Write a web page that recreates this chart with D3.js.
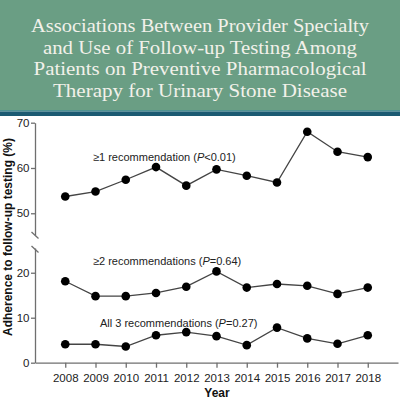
<!DOCTYPE html>
<html>
<head>
<meta charset="utf-8">
<script src="https://cdn.jsdelivr.net/npm/d3@7"></script>
<style>
  html, body { margin: 0; padding: 0; background: #ffffff; }
  svg { display: block; }
</style>
</head>
<body>
<div id="chart"></div>
<script>
'use strict';

var years = [2008, 2009, 2010, 2011, 2012, 2013, 2014, 2015, 2016, 2017, 2018];
var atLeastOne = [53.7, 54.8, 57.4, 60.2, 56.1, 59.7, 58.3, 56.8, 68.0, 63.6, 62.4];
var atLeastTwo = [18.1, 14.8, 14.8, 15.5, 16.9, 20.3, 16.7, 17.5, 17.1, 15.3, 16.7];
var allThree = [4.1, 4.1, 3.6, 6.1, 6.8, 5.9, 3.9, 7.8, 5.4, 4.2, 6.1];
var upperTicks = [50, 60, 70];
var lowerTicks = [0, 10, 20];
var titleLines = [
    'Associations Between Provider Specialty',
    'and Use of Follow-up Testing Among',
    'Patients on Preventive Pharmacological',
    'Therapy for Urinary Stone Disease'
];

var width = 400, height = 400;
var svg = d3.select('#chart').append('svg')
    .attr('width', width)
    .attr('height', height);

// banner
svg.append('rect').attr('x', 0).attr('y', 0).attr('width', width).attr('height', 111)
    .attr('fill', '#6a9e84');
svg.append('rect').attr('x', 0).attr('y', 110).attr('width', width).attr('height', 1.5)
    .attr('fill', '#4d9292');
svg.append('rect').attr('x', 0).attr('y', 111.5).attr('width', width).attr('height', 4.5)
    .attr('fill', '#1b5a72');

var titleWidths = [338, 314, 333, 294];
svg.selectAll('text.title').data(titleLines).enter()
    .append('text')
    .attr('class', 'title')
    .attr('x', 200)
    .attr('y', function(d, i){ return 32 + i * 21.5; })
    .attr('text-anchor', 'middle')
    .attr('font-family', '"Liberation Serif", "DejaVu Serif", serif')
    .attr('font-size', '18.5px')
    .attr('fill', '#f2f1ea')
    .attr('textLength', function(d, i){ return titleWidths[i]; })
    .attr('lengthAdjust', 'spacingAndGlyphs')
    .text(function(d){ return d; });

// scales
var axisX = 35;
var x = d3.scaleLinear().domain([2007, 2019]).range([axisX, 398]);
var yTop = d3.scaleLinear().domain([45.2, 70]).range([235, 122.7]);
var yBot = d3.scaleLinear().domain([0, 25.5]).range([362.7, 248]);

var axisColor = '#6f6f6f';
var font = '"Liberation Sans", Arial, sans-serif';

function styleAxis(g) {
    g.selectAll('path.domain').attr('stroke', axisColor).attr('stroke-width', 1.3);
    g.selectAll('.tick line').attr('stroke', axisColor).attr('stroke-width', 1.3);
    g.selectAll('.tick text').attr('fill', '#222').attr('font-family', font).attr('font-size', '11.5px');
}

var gTop = svg.append('g').attr('transform', 'translate(' + axisX + ',0)')
    .call(d3.axisLeft(yTop).tickValues(upperTicks).tickSize(4).tickSizeOuter(0).tickPadding(1.5));
styleAxis(gTop);

var gBot = svg.append('g').attr('transform', 'translate(' + axisX + ',0)')
    .call(d3.axisLeft(yBot).tickValues(lowerTicks).tickSize(4).tickSizeOuter(0).tickPadding(1.5));
styleAxis(gBot);

var gX = svg.append('g').attr('transform', 'translate(0,' + yBot(0) + ')')
    .call(d3.axisBottom(x).tickValues(years).tickFormat(d3.format('d')).tickSize(5).tickSizeOuter(0).tickPadding(6));
styleAxis(gX);

// axis break marks
[yTop.range()[0], yBot.range()[1]].forEach(function(yy, i){
    var off = i === 0 ? 0 : 1;
    svg.append('line')
        .attr('x1', axisX - 3.5).attr('y1', yy - 3 + off)
        .attr('x2', axisX + 3.5).attr('y2', yy + 3.5 + off)
        .attr('stroke', axisColor)
        .attr('stroke-width', 1.3);
});

// series
var series = [
    {values: atLeastOne, y: yTop},
    {values: atLeastTwo, y: yBot},
    {values: allThree, y: yBot}
];

series.forEach(function(s){
    var line = d3.line()
        .x(function(d, i){ return x(years[i]); })
        .y(function(d){ return s.y(d); });
    svg.append('path')
        .datum(s.values)
        .attr('d', line)
        .attr('fill', 'none')
        .attr('stroke', '#444')
        .attr('stroke-width', 1.3);
    svg.selectAll(null).data(s.values).enter()
        .append('circle')
        .attr('cx', function(d, i){ return x(years[i]); })
        .attr('cy', function(d){ return s.y(d); })
        .attr('r', 4.3)
        .attr('fill', '#000');
});

// series labels
var labels = [
    {x: 93, y: 160.5, pre: '\u22651 recommendation (', p: 'P', post: '<0.01)'},
    {x: 93, y: 264.5, pre: '\u22652 recommendations (', p: 'P', post: '=0.64)'},
    {x: 100, y: 326.5, pre: 'All 3 recommendations (', p: 'P', post: '=0.27)'}
];
labels.forEach(function(l){
    var t = svg.append('text')
        .attr('x', l.x).attr('y', l.y)
        .attr('font-family', font)
        .attr('font-size', '11px')
        .attr('fill', '#222');
    t.append('tspan').text(l.pre);
    t.append('tspan').attr('font-style', 'italic').text(l.p);
    t.append('tspan').text(l.post);
});

// axis titles
svg.append('text')
    .attr('transform', 'translate(11.5,237) rotate(-90)')
    .attr('text-anchor', 'middle')
    .attr('font-family', font)
    .attr('font-weight', 'bold')
    .attr('font-size', '12px')
    .attr('fill', '#111')
    .text('Adherence to follow-up testing (%)');

svg.append('text')
    .attr('x', 217).attr('y', 397)
    .attr('text-anchor', 'middle')
    .attr('font-family', font)
    .attr('font-weight', 'bold')
    .attr('font-size', '12px')
    .attr('fill', '#111')
    .text('Year');
</script>
</body>
</html>
